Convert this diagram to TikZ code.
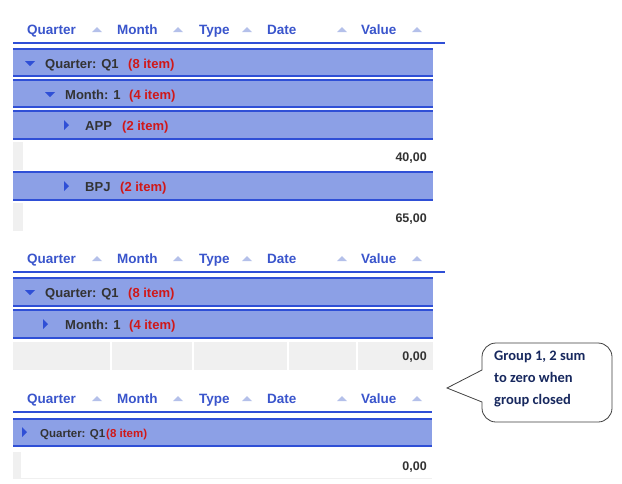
\documentclass[tikz,border=0pt]{standalone}
\usepackage{fontspec}
\setmainfont{Liberation Sans}
\newfontfamily\calfont{Carlito}
\definecolor{hdr}{HTML}{3A55CC}
\definecolor{tri}{HTML}{B4C0EA}
\definecolor{bandc}{HTML}{8CA0E6}
\definecolor{lnc}{HTML}{2F4FD6}
\definecolor{txt}{HTML}{333333}
\definecolor{red}{HTML}{D01818}
\definecolor{grey}{HTML}{F0F0F0}
\definecolor{navy}{HTML}{17285E}
\tikzset{
 hd/.style={anchor=base west,inner sep=0pt,font=\fontsize{13.5}{14}\selectfont\bfseries,text=hdr},
 rt/.style={anchor=base west,inner sep=0pt,font=\fontsize{13}{14}\selectfont\bfseries,text=txt},
 rd/.style={anchor=base west,inner sep=0pt,font=\fontsize{13}{14}\selectfont\bfseries,text=red},
 small/.style={font=\fontsize{11.5}{14}\selectfont\bfseries},
 val/.style={anchor=base east,inner sep=0pt,font=\fontsize{12.5}{14}\selectfont\bfseries,text=txt},
}
\newcommand{\uptri}[2]{\fill[tri] (#1-5,#2+3) -- (#1+5,#2+3) -- (#1,#2-2) -- cycle;}
\newcommand{\dntri}[2]{\fill[lnc] (#1-5,#2-2) -- (#1+5,#2-2) -- (#1,#2+3) -- cycle;}
\newcommand{\rttri}[2]{\fill[lnc] (#1-2,#2-5) -- (#1-2,#2+5) -- (#1+3,#2) -- cycle;}
\newcommand{\band}[3]{\fill[bandc] (13,#1) rectangle (#3,#2);
 \draw[lnc,line width=1.3] (13,#1) -- (#3,#1); \draw[lnc,line width=1.3] (13,#2) -- (#3,#2);}
\newcommand{\header}[2]{%
 \node[hd] at (27,#1+5) {Quarter}; \uptri{97}{#1}
 \node[hd] at (117,#1+5) {Month}; \uptri{178}{#1}
 \node[hd] at (199,#1+5) {Type}; \uptri{247}{#1}
 \node[hd] at (267,#1+5) {Date}; \uptri{342}{#1}
 \node[hd] at (361,#1+5) {Value}; \uptri{417}{#1}
 \draw[lnc,line width=2] (13,#1+14) -- (#2,#1+14);}
\begin{document}
\begin{tikzpicture}[x=1pt,y=-1pt]
\useasboundingbox[fill=white] (0,0) rectangle (622,483);
% section 1
\header{29}{445}
\band{49}{76}{433}
\dntri{30}{63}\node[rt] (q1a) at (45,68) {Quarter: Q1}; \node[rd] (q1ar) at (128,68) {(8 item)};
\band{80}{107}{433}
\dntri{50}{94}\node[rt] (m1a) at (65,99) {Month: 1}; \node[rd] (m1ar) at (129,99) {(4 item)};
\band{111}{139}{433}
\rttri{66}{125}\node[rt] (app) at (85,130) {APP}; \node[rd] (appr) at (122,130) {(2 item)};
\fill[grey] (13,142) rectangle (23,170);
\node[val] (v40) at (427,161) {40,00};
\band{172}{200}{433}
\rttri{66}{186}\node[rt] (bpj) at (85,191) {BPJ}; \node[rd] (bpjr) at (120,191) {(2 item)};
\fill[grey] (13,203) rectangle (23,231);
\node[val] (v65) at (427,222) {65,00};
% section 2
\header{258}{445}
\band{278}{306}{433}
\dntri{30}{292}\node[rt] (q1b) at (45,297) {Quarter: Q1}; \node[rd] (q1br) at (128,297) {(8 item)};
\band{310}{338}{433}
\rttri{45}{324}\node[rt] (m1b) at (65,329) {Month: 1}; \node[rd] (m1br) at (129,329) {(4 item)};
\fill[grey] (13,342) rectangle (433,370);
\foreach \x in {111,193,288,357} \draw[white,line width=1.5] (\x,342) -- (\x,370);
\node[val] (v0a) at (427,360) {0,00};
% section 3
\header{398}{432}
\band{419}{446}{432}
\rttri{24}{432}\node[rt,small] (q1c) at (40,437) {Quarter: Q1}; \node[rd,small] (q1cr) at (106,437) {(8 item)};
\fill[grey] (13,452) rectangle (21,478);
\draw[grey,line width=1] (13,478) -- (432,478);
\node[val] (v0b) at (427,470) {0,00};
% callout
\draw[black!75,line width=0.8,fill=white]
 (496,343) -- (598,343) to[out=0,in=90] (612,357) -- (612,408) to[out=-90,in=0] (598,422)
 -- (496,422) to[out=180,in=-90] (482,408) -- (482,402) -- (447,388) -- (482,370) -- (482,357)
 to[out=90,in=180] (496,343) -- cycle;
\node[anchor=north west,inner sep=0pt,align=left,text=navy,font=\calfont\fontsize{14.5}{22}\selectfont\bfseries] (note) at (494,351)
 {Group 1, 2 sum\\to zero when\\group closed};
\end{tikzpicture}
\end{document}
